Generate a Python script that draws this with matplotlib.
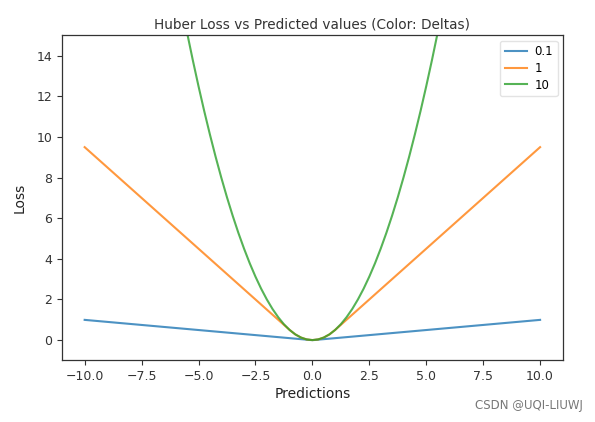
import matplotlib
matplotlib.use("Agg")
import matplotlib.pyplot as plt

# Delta = 0.1 series
x_d01 = [-10.0, -0.1, -0.05, 0.0, 0.05, 0.1, 10.0]
y_d01 = [0.995, 0.005, 0.00125, 0.0, 0.00125, 0.005, 0.995]

# Delta = 1 series
x_d1 = [-10.0, -1.0, -0.75, -0.5, -0.25, 0.0, 0.25, 0.5, 0.75, 1.0, 10.0]
y_d1 = [9.5, 0.5, 0.28, 0.125, 0.03, 0.0, 0.03, 0.125, 0.28, 0.5, 9.5]

# Delta = 10 series (quadratic part visible inside the y range)
x_d10 = [-6.0, -5.75, -5.5, -5.25, -5.0, -4.75, -4.5, -4.25, -4.0, -3.75, -3.5,
         -3.25, -3.0, -2.75, -2.5, -2.25, -2.0, -1.75, -1.5, -1.25, -1.0, -0.75,
         -0.5, -0.25, 0.0, 0.25, 0.5, 0.75, 1.0, 1.25, 1.5, 1.75, 2.0, 2.25, 2.5,
         2.75, 3.0, 3.25, 3.5, 3.75, 4.0, 4.25, 4.5, 4.75, 5.0, 5.25, 5.5, 5.75, 6.0]
y_d10 = [18.0, 16.53, 15.125, 13.78, 12.5, 11.28, 10.125, 9.03, 8.0, 7.03, 6.125,
         5.28, 4.5, 3.78, 3.125, 2.53, 2.0, 1.53, 1.125, 0.78, 0.5, 0.28,
         0.125, 0.03, 0.0, 0.03, 0.125, 0.28, 0.5, 0.78, 1.125, 1.53, 2.0, 2.53, 3.125,
         3.78, 4.5, 5.28, 6.125, 7.03, 8.0, 9.03, 10.125, 11.28, 12.5, 13.78, 15.125, 16.53, 18.0]

labels = ["0.1", "1", "10"]
x_ticks = [-10.0, -7.5, -5.0, -2.5, 0.0, 2.5, 5.0, 7.5, 10.0]
y_ticks = [0, 2, 4, 6, 8, 10, 12, 14]

fig = plt.figure(figsize=(5.95, 4.22), dpi=100)
ax = fig.add_axes([0.104, 0.146, 0.842, 0.770])

for xs, ys, lab, col in [(x_d01, y_d01, labels[0], "#1f77b4"),
                         (x_d1, y_d1, labels[1], "#ff7f0e"),
                         (x_d10, y_d10, labels[2], "#2ca02c")]:
    ax.plot(xs, ys, label=lab, color=col, lw=1.5, alpha=0.8)

ax.set_xlim(-11, 11)
ax.set_ylim(-1, 15)
ax.set_xticks(x_ticks)
ax.set_xticklabels([f"{v:.1f}".replace("-", "\u2212") for v in x_ticks])
ax.set_yticks(y_ticks)
ax.tick_params(labelsize=9, colors="#333333", length=3.5)
for sp in ax.spines.values():
    sp.set_color("#333333")
    sp.set_linewidth(0.9)

ax.set_title("Huber Loss vs Predicted values (Color: Deltas)", fontsize=9.8, color="#333333", pad=5)
ax.set_xlabel("Predictions", fontsize=10, color="#222222", labelpad=3)
ax.set_ylabel("Loss", fontsize=10, color="#222222", labelpad=7)

ax.legend(loc="upper right", fontsize=8.5, handlelength=1.9, handletextpad=0.6,
          borderpad=0.4, labelspacing=0.3, borderaxespad=0.45,
          framealpha=0.8, edgecolor="#dddddd", fancybox=True)

fig.text(0.98, 0.04, "CSDN @UQI-LIUWJ", ha="right", va="center", fontsize=8.5, color="#777777")

fig.savefig("out.png", dpi=100)
